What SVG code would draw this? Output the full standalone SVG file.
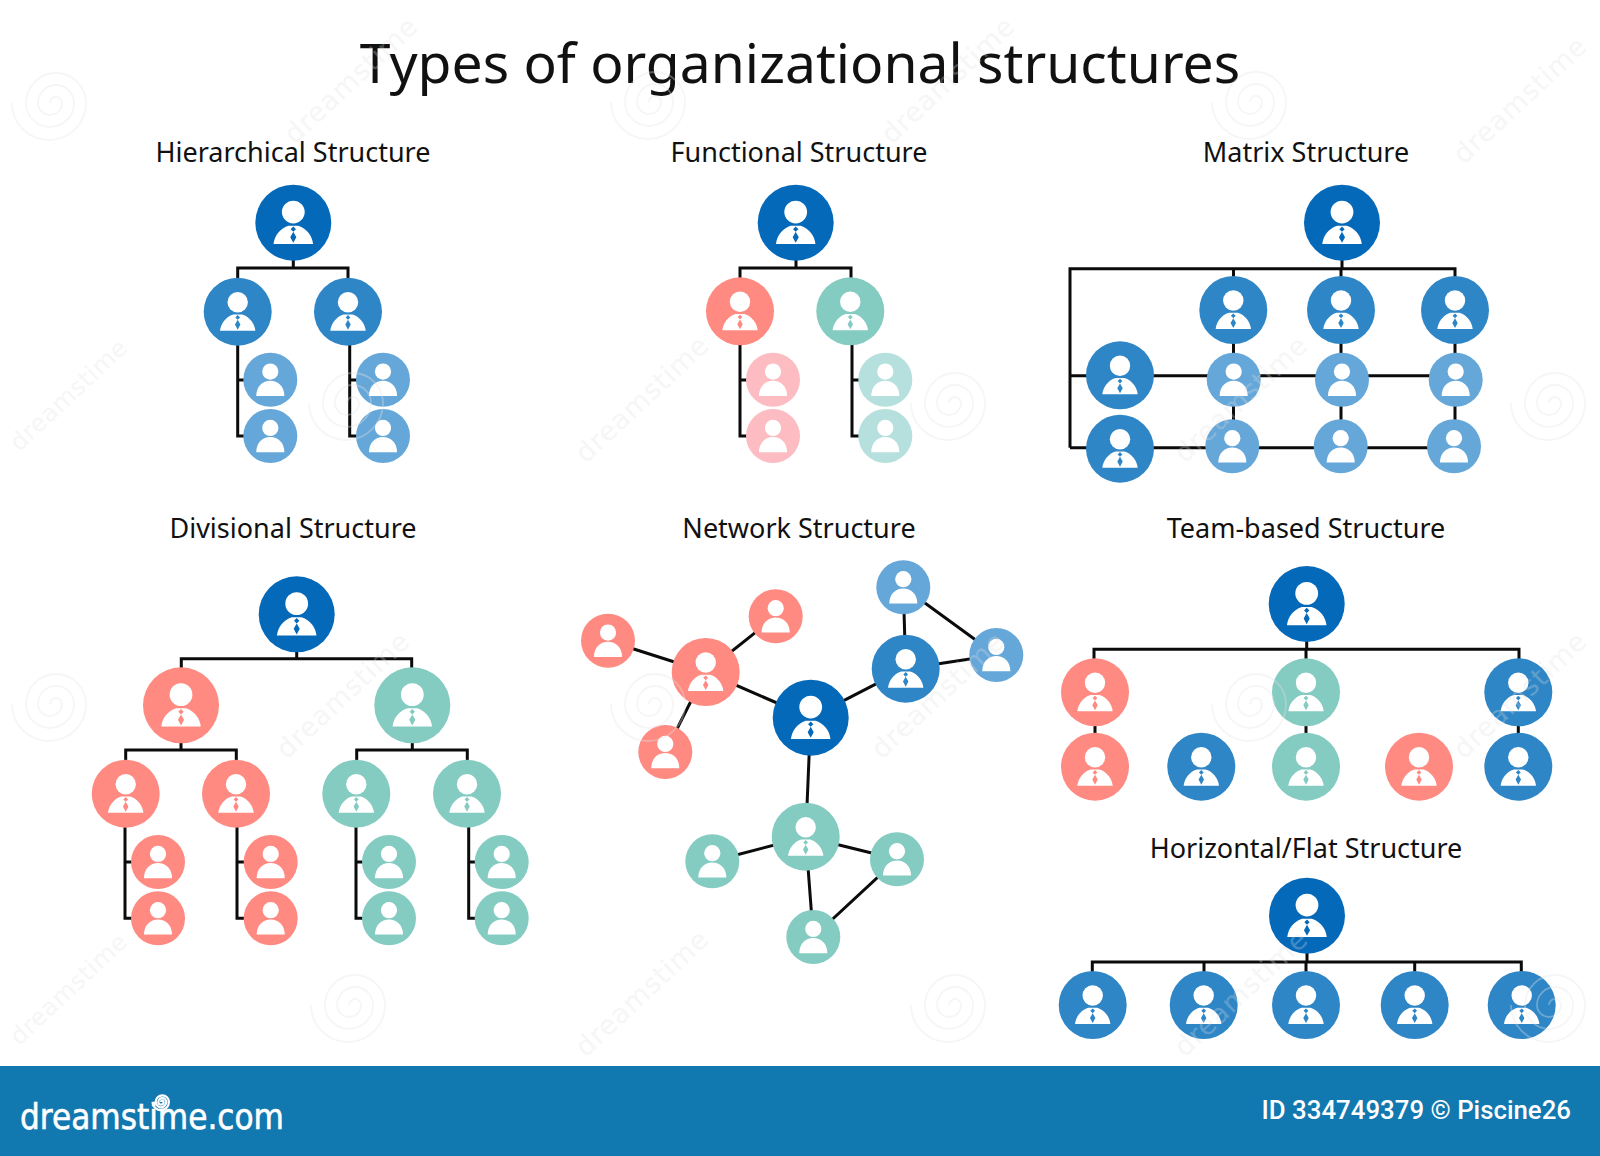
<svg xmlns="http://www.w3.org/2000/svg" width="1600" height="1156" viewBox="0 0 1600 1156">
<style>
text{font-family:"Noto Sans","Open Sans","DejaVu Sans",sans-serif;fill:#111}
.title{font-size:55.2px;text-anchor:middle}
.label{font-size:27px;text-anchor:middle}
.id{font-family:Roboto,"Liberation Sans",sans-serif;font-size:25.8px;font-weight:500;fill:#fff;text-anchor:end}
.logo{font-family:"DejaVu Sans",sans-serif;font-size:35px;fill:#fff;stroke:#fff;stroke-width:.6}
.wt{font-family:"DejaVu Sans",sans-serif;font-size:27px;fill:#e0e0e0;opacity:.28;text-anchor:middle}
.lines path{fill:none;stroke:#0b0b0b;stroke-width:3}
.spiral{fill:none;stroke:#e4e4e4;stroke-width:1.8;opacity:.35}
.c1{color:#0569b9}.c2{color:#2e86c6}.c3{color:#66a7d9}.r{color:#fe8a81}.t{color:#84cbc1}.pr{color:#fdbcc1}.pt{color:#b5e0dd}
</style>
<defs>
<g id="boss"><circle r="100" fill="currentColor"/><circle cy="-28" r="30" fill="#fff"/><path d="M-52 56C-50 36-36 15-13 8H13C36 15 50 36 52 56Z" fill="#fff"/><path d="M0 10L7 17 0 24-7 17ZM0 24L8 38 0 53-8 38Z" fill="currentColor"/></g>
<g id="staff"><circle r="100" fill="currentColor"/><circle cy="-30" r="30" fill="#fff"/><path d="M-52 60C-52 24-28 4 0 4S52 24 52 60Z" fill="#fff"/></g>
<path id="sp" d="M0 0A6 6 0 0 1 12 0A12 12 0 0 1-12 0A18 18 0 0 1 24 0A24 24 0 0 1-24 0A30 30 0 0 1 36 0A37 37 0 0 1-38 0"/>
</defs>
<rect width="1600" height="1156" fill="#fff"/>
<text class="title" x="800" y="83">Types of organizational structures</text>
<text class="label" x="293" y="161.5">Hierarchical Structure</text>
<text class="label" x="799" y="161.5">Functional Structure</text>
<text class="label" x="1306" y="161.5">Matrix Structure</text>
<text class="label" x="293" y="538">Divisional Structure</text>
<text class="label" x="799" y="538">Network Structure</text>
<text class="label" x="1306" y="538">Team-based Structure</text>
<text class="label" x="1306" y="858">Horizontal/Flat Structure</text>

<g id="connectors" class="lines">
<path d="M293.3 255V268M237.7 285V268H348V285M237.7 340V436H255M237.7 380H250M349.7 340V436H367M349.7 380H362"/>
<path d="M796 255V268M740 285V268H851V285M740 340V436H760M740 380H752M852 340V436H872M852 380H864"/>
<path d="M1342 255V268.7M1070 447.7V268.7H1455V285M1233.5 268.7V285M1341 268.7V285M1233.5 340V446M1341 340V446M1455 340V446M1070 375.7H1455M1070 447.7H1455"/>
<path d="M296.7 650V658.7M181.3 675V658.7H411.7V675M181 740V750M125.7 770V750H236.3V770M412.3 740V750M356.7 770V750H467.3V770M125 820V918.3H140M125 862H135M237 820V918.3H252M237 862H248M356 820V918.3H371M356 862H366M468.7 820V918.3H484M468.7 862H479"/>
<path d="M810.7 717.7L705.7 672M705.7 672L608 640.7M705.7 672L775.7 616.3M705.7 672L665.3 752M810.7 717.7L905.7 668.7M905.7 668.7L903.3 587.3M905.7 668.7L996.3 655M903.3 587.3L996.3 655M810.7 717.7L805.7 836.7M805.7 836.7L712.3 861.3M805.7 836.7L897 859.3M805.7 836.7L813.3 937M897 859.3L813.3 937"/>
<path d="M1306.7 640V649.3M1094 670V649.3H1519V670M1306 649.3V670M1095 720V745M1306 720V745M1518.3 720V745"/>
<path d="M1307 950V962M1092.3 985V962H1521.3V985M1204 962V985M1306 962V985M1414.7 962V985"/>
</g>

<g id="hierarchical">
<g id="h1" class="c1" transform="translate(293.3 222.7) scale(.38)"><use href="#boss"/></g>
<g id="h2" class="c2" transform="translate(237.7 311.7) scale(.34)"><use href="#boss"/></g>
<g id="h3" class="c2" transform="translate(348 311.7) scale(.34)"><use href="#boss"/></g>
<g id="h4" class="c3" transform="translate(270.3 379.7) scale(.27)"><use href="#staff"/></g>
<g id="h5" class="c3" transform="translate(270.3 436) scale(.27)"><use href="#staff"/></g>
<g id="h6" class="c3" transform="translate(383 379.7) scale(.27)"><use href="#staff"/></g>
<g id="h7" class="c3" transform="translate(383 436) scale(.27)"><use href="#staff"/></g>
</g>
<g id="functional">
<g id="f1" class="c1" transform="translate(795.7 222.7) scale(.38)"><use href="#boss"/></g>
<g id="f2" class="r" transform="translate(740 311.3) scale(.34)"><use href="#boss"/></g>
<g id="f3" class="t" transform="translate(850.3 311.3) scale(.34)"><use href="#boss"/></g>
<g id="f4" class="pr" transform="translate(773 379.7) scale(.27)"><use href="#staff"/></g>
<g id="f5" class="pr" transform="translate(773 436) scale(.27)"><use href="#staff"/></g>
<g id="f6" class="pt" transform="translate(885.3 379.7) scale(.27)"><use href="#staff"/></g>
<g id="f7" class="pt" transform="translate(885.3 436) scale(.27)"><use href="#staff"/></g>
</g>
<g id="matrix">
<g id="m1" class="c1" transform="translate(1342 222.7) scale(.38)"><use href="#boss"/></g>
<g id="m2" class="c2" transform="translate(1233.3 310) scale(.34)"><use href="#boss"/></g>
<g id="m3" class="c2" transform="translate(1341 310) scale(.34)"><use href="#boss"/></g>
<g id="m4" class="c2" transform="translate(1455 310) scale(.34)"><use href="#boss"/></g>
<g id="m5" class="c2" transform="translate(1120 375.3) scale(.34)"><use href="#boss"/></g>
<g id="m6" class="c2" transform="translate(1120 448.7) scale(.34)"><use href="#boss"/></g>
<g id="m7" class="c3" transform="translate(1233.7 379.7) scale(.27)"><use href="#staff"/></g>
<g id="m8" class="c3" transform="translate(1342 379.7) scale(.27)"><use href="#staff"/></g>
<g id="m9" class="c3" transform="translate(1455.7 379.7) scale(.27)"><use href="#staff"/></g>
<g id="m10" class="c3" transform="translate(1232.3 446.3) scale(.27)"><use href="#staff"/></g>
<g id="m11" class="c3" transform="translate(1340.7 446.3) scale(.27)"><use href="#staff"/></g>
<g id="m12" class="c3" transform="translate(1454 446.3) scale(.27)"><use href="#staff"/></g>
</g>
<g id="divisional">
<g id="d1" class="c1" transform="translate(296.7 614.3) scale(.38)"><use href="#boss"/></g>
<g id="d2" class="r" transform="translate(181 705.3) scale(.38)"><use href="#boss"/></g>
<g id="d3" class="t" transform="translate(412.3 705.3) scale(.38)"><use href="#boss"/></g>
<g id="d4" class="r" transform="translate(125.7 793.7) scale(.34)"><use href="#boss"/></g>
<g id="d5" class="r" transform="translate(236 793.7) scale(.34)"><use href="#boss"/></g>
<g id="d6" class="t" transform="translate(356.3 793.7) scale(.34)"><use href="#boss"/></g>
<g id="d7" class="t" transform="translate(467 793.7) scale(.34)"><use href="#boss"/></g>
<g id="d8" class="r" transform="translate(158 862) scale(.27)"><use href="#staff"/></g>
<g id="d9" class="r" transform="translate(158 918.3) scale(.27)"><use href="#staff"/></g>
<g id="d10" class="r" transform="translate(270.7 862) scale(.27)"><use href="#staff"/></g>
<g id="d11" class="r" transform="translate(270.7 918.3) scale(.27)"><use href="#staff"/></g>
<g id="d12" class="t" transform="translate(389 862) scale(.27)"><use href="#staff"/></g>
<g id="d13" class="t" transform="translate(389 918.3) scale(.27)"><use href="#staff"/></g>
<g id="d14" class="t" transform="translate(501.7 862) scale(.27)"><use href="#staff"/></g>
<g id="d15" class="t" transform="translate(501.7 918.3) scale(.27)"><use href="#staff"/></g>
</g>
<g id="network">
<g id="n1" class="c1" transform="translate(810.7 717.7) scale(.38)"><use href="#boss"/></g>
<g id="n2" class="r" transform="translate(705.7 672) scale(.34)"><use href="#boss"/></g>
<g id="n3" class="r" transform="translate(608 640.7) scale(.27)"><use href="#staff"/></g>
<g id="n4" class="r" transform="translate(775.7 616.3) scale(.27)"><use href="#staff"/></g>
<g id="n5" class="r" transform="translate(665.3 752) scale(.27)"><use href="#staff"/></g>
<g id="n6" class="c2" transform="translate(905.7 668.7) scale(.34)"><use href="#boss"/></g>
<g id="n7" class="c3" transform="translate(903.3 587.3) scale(.27)"><use href="#staff"/></g>
<g id="n8" class="c3" transform="translate(996.3 655) scale(.27)"><use href="#staff"/></g>
<g id="n9" class="t" transform="translate(805.7 836.7) scale(.34)"><use href="#boss"/></g>
<g id="n10" class="t" transform="translate(712.3 861.3) scale(.27)"><use href="#staff"/></g>
<g id="n11" class="t" transform="translate(897 859.3) scale(.27)"><use href="#staff"/></g>
<g id="n12" class="t" transform="translate(813.3 937) scale(.27)"><use href="#staff"/></g>
</g>
<g id="team">
<g id="t1" class="c1" transform="translate(1306.7 604) scale(.38)"><use href="#boss"/></g>
<g id="t2" class="r" transform="translate(1095 692.3) scale(.34)"><use href="#boss"/></g>
<g id="t3" class="t" transform="translate(1306 692.3) scale(.34)"><use href="#boss"/></g>
<g id="t4" class="c2" transform="translate(1518.3 692.3) scale(.34)"><use href="#boss"/></g>
<g id="t5" class="r" transform="translate(1095 766.7) scale(.34)"><use href="#boss"/></g>
<g id="t6" class="c2" transform="translate(1201.3 766.7) scale(.34)"><use href="#boss"/></g>
<g id="t7" class="t" transform="translate(1306 766.7) scale(.34)"><use href="#boss"/></g>
<g id="t8" class="r" transform="translate(1419 766.7) scale(.34)"><use href="#boss"/></g>
<g id="t9" class="c2" transform="translate(1518.3 766.7) scale(.34)"><use href="#boss"/></g>
</g>
<g id="flat">
<g id="x1" class="c1" transform="translate(1307 915.7) scale(.38)"><use href="#boss"/></g>
<g id="x2" class="c2" transform="translate(1092.7 1005) scale(.34)"><use href="#boss"/></g>
<g id="x3" class="c2" transform="translate(1203.7 1005) scale(.34)"><use href="#boss"/></g>
<g id="x4" class="c2" transform="translate(1306 1005) scale(.34)"><use href="#boss"/></g>
<g id="x5" class="c2" transform="translate(1414.7 1005) scale(.34)"><use href="#boss"/></g>
<g id="x6" class="c2" transform="translate(1521.7 1005) scale(.34)"><use href="#boss"/></g>
</g>

<g id="watermark" class="spiral">
<use href="#sp" x="50" y="103"/><use href="#sp" x="649" y="102"/><use href="#sp" x="1250" y="102"/>
<use href="#sp" x="347" y="403"/><use href="#sp" x="949" y="403"/><use href="#sp" x="1549" y="403"/>
<use href="#sp" x="50" y="704"/><use href="#sp" x="649" y="704"/><use href="#sp" x="1250" y="704"/>
<use href="#sp" x="349" y="1005"/><use href="#sp" x="949" y="1005"/><use href="#sp" x="1549" y="1005"/>
</g>
<g id="watermark-text">
<text class="wt" transform="translate(357 87) rotate(-43)" textLength="170">dreamstime</text>
<text class="wt" transform="translate(954 87) rotate(-43)" textLength="170">dreamstime</text>
<text class="wt" transform="translate(1526 107) rotate(-43)" textLength="170">dreamstime</text>
<text class="wt" style="font-size:24px" transform="translate(74 401) rotate(-43)" textLength="150">dreamstime</text>
<text class="wt" transform="translate(648 406) rotate(-43)" textLength="170">dreamstime</text>
<text class="wt" transform="translate(1247 406) rotate(-43)" textLength="170">dreamstime</text>
<text class="wt" transform="translate(349 702) rotate(-43)" textLength="170">dreamstime</text>
<text class="wt" transform="translate(944 702) rotate(-43)" textLength="170">dreamstime</text>
<text class="wt" transform="translate(1526 702) rotate(-43)" textLength="170">dreamstime</text>
<text class="wt" style="font-size:24px" transform="translate(74 995) rotate(-43)" textLength="150">dreamstime</text>
<text class="wt" transform="translate(648 1000) rotate(-43)" textLength="170">dreamstime</text>
<text class="wt" transform="translate(1247 1000) rotate(-43)" textLength="170">dreamstime</text>
</g>

<rect id="bar" y="1066" width="1600" height="90" fill="#1278b0"/>
<text class="logo" x="20" y="1129" textLength="264" lengthAdjust="spacingAndGlyphs">dreamstime.com</text>
<use href="#sp" transform="translate(161 1102) scale(.22)" style="fill:none;stroke:#fff;stroke-width:10"/>
<text class="id" x="1571" y="1119">ID 334749379 © Piscine26</text>
</svg>
